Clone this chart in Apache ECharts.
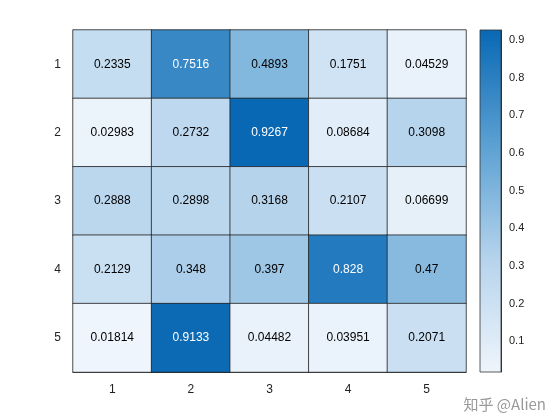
<!DOCTYPE html>
<html><head><meta charset="utf-8">
<script src="https://cdn.jsdelivr.net/npm/echarts@6/dist/echarts.min.js"></script>
<style>html,body{margin:0;background:#fff}#c{width:560px;height:420px}</style>
</head><body><div id="c"></div>
<script>
const xLabels = ['1', '2', '3', '4', '5'];
const yLabels = ['1', '2', '3', '4', '5'];
const values = [
  [0.2335, 0.7516, 0.4893, 0.1751, 0.04529],
  [0.02983, 0.2732, 0.9267, 0.08684, 0.3098],
  [0.2888, 0.2898, 0.3168, 0.2107, 0.06699],
  [0.2129, 0.348, 0.397, 0.828, 0.47],
  [0.01814, 0.9133, 0.04482, 0.03951, 0.2071]
];
const labels = [
  ['0.2335', '0.7516', '0.4893', '0.1751', '0.04529'],
  ['0.02983', '0.2732', '0.9267', '0.08684', '0.3098'],
  ['0.2888', '0.2898', '0.3168', '0.2107', '0.06699'],
  ['0.2129', '0.348', '0.397', '0.828', '0.47'],
  ['0.01814', '0.9133', '0.04482', '0.03951', '0.2071']
];
const cbTicks = [0.1, 0.2, 0.3, 0.4, 0.5, 0.6, 0.7, 0.8, 0.9];
const vmin = 0.01814, vmax = 0.9267;
const colors = ['#eef5fc', '#b5d3ec', '#5aa0d2', '#0868b4'];

const cells = [];
values.forEach((row, r) => row.forEach((v, c) => {
  cells.push({ value: [c, r, v], label: { color: v > 0.7 ? '#fff' : '#000', formatter: labels[r][c] } });
}));

const chart = echarts.init(document.getElementById('c'));
const font = 'Liberation Sans, Arial, sans-serif';
chart.setOption({
  animation: false,
  textStyle: { fontFamily: font },
  grid: [
    { left: 73, top: 30, width: 393, height: 342 },
    { left: 480, top: 30, width: 21, height: 342 }
  ],
  xAxis: [
    { type: 'category', data: xLabels, gridIndex: 0, axisTick: { show: false },
      axisLine: { lineStyle: { color: '#333' } },
      axisLabel: { color: '#222', fontSize: 12, margin: 12 } },
    { type: 'category', data: ['c'], gridIndex: 1, show: false }
  ],
  yAxis: [
    { type: 'category', data: yLabels, inverse: true, gridIndex: 0, axisTick: { show: false },
      axisLine: { lineStyle: { color: '#333' } },
      axisLabel: { color: '#222', fontSize: 12, margin: 12 } },
    { type: 'value', gridIndex: 1, position: 'right', min: vmin, max: vmax,
      splitLine: { show: false },
      axisLine: { show: true, lineStyle: { color: '#333' } },
      axisTick: { show: true, inside: true, length: 4, customValues: cbTicks, lineStyle: { color: '#333' } },
      axisLabel: { color: '#222', fontSize: 11, customValues: cbTicks, formatter: v => String(+v.toFixed(1)) } }
  ],
  visualMap: { show: false, seriesIndex: 0, min: vmin, max: vmax, inRange: { color: colors } },
  series: [
    { type: 'heatmap', xAxisIndex: 0, yAxisIndex: 0, data: cells,
      label: { show: true, fontSize: 12, fontFamily: font },
      itemStyle: { borderColor: '#222', borderWidth: 0.8 } },
    { type: 'custom', xAxisIndex: 1, yAxisIndex: 1, data: [[0, vmax]],
      renderItem: (p, api) => {
        const cs = p.coordSys;
        return { type: 'rect', shape: { x: cs.x, y: cs.y, width: cs.width, height: cs.height },
          style: { stroke: '#333', lineWidth: 0.8,
            fill: new echarts.graphic.LinearGradient(0, 1, 0, 0,
              colors.map((c, i) => ({ offset: i / (colors.length - 1), color: c }))) } };
      } }
  ],
  graphic: [{ type: 'text', right: 14, bottom: 8,
    style: { text: '知乎 @Alien', fill: '#999', font: '15px "Noto Sans CJK SC", sans-serif' } }]
});
</script></body></html>
